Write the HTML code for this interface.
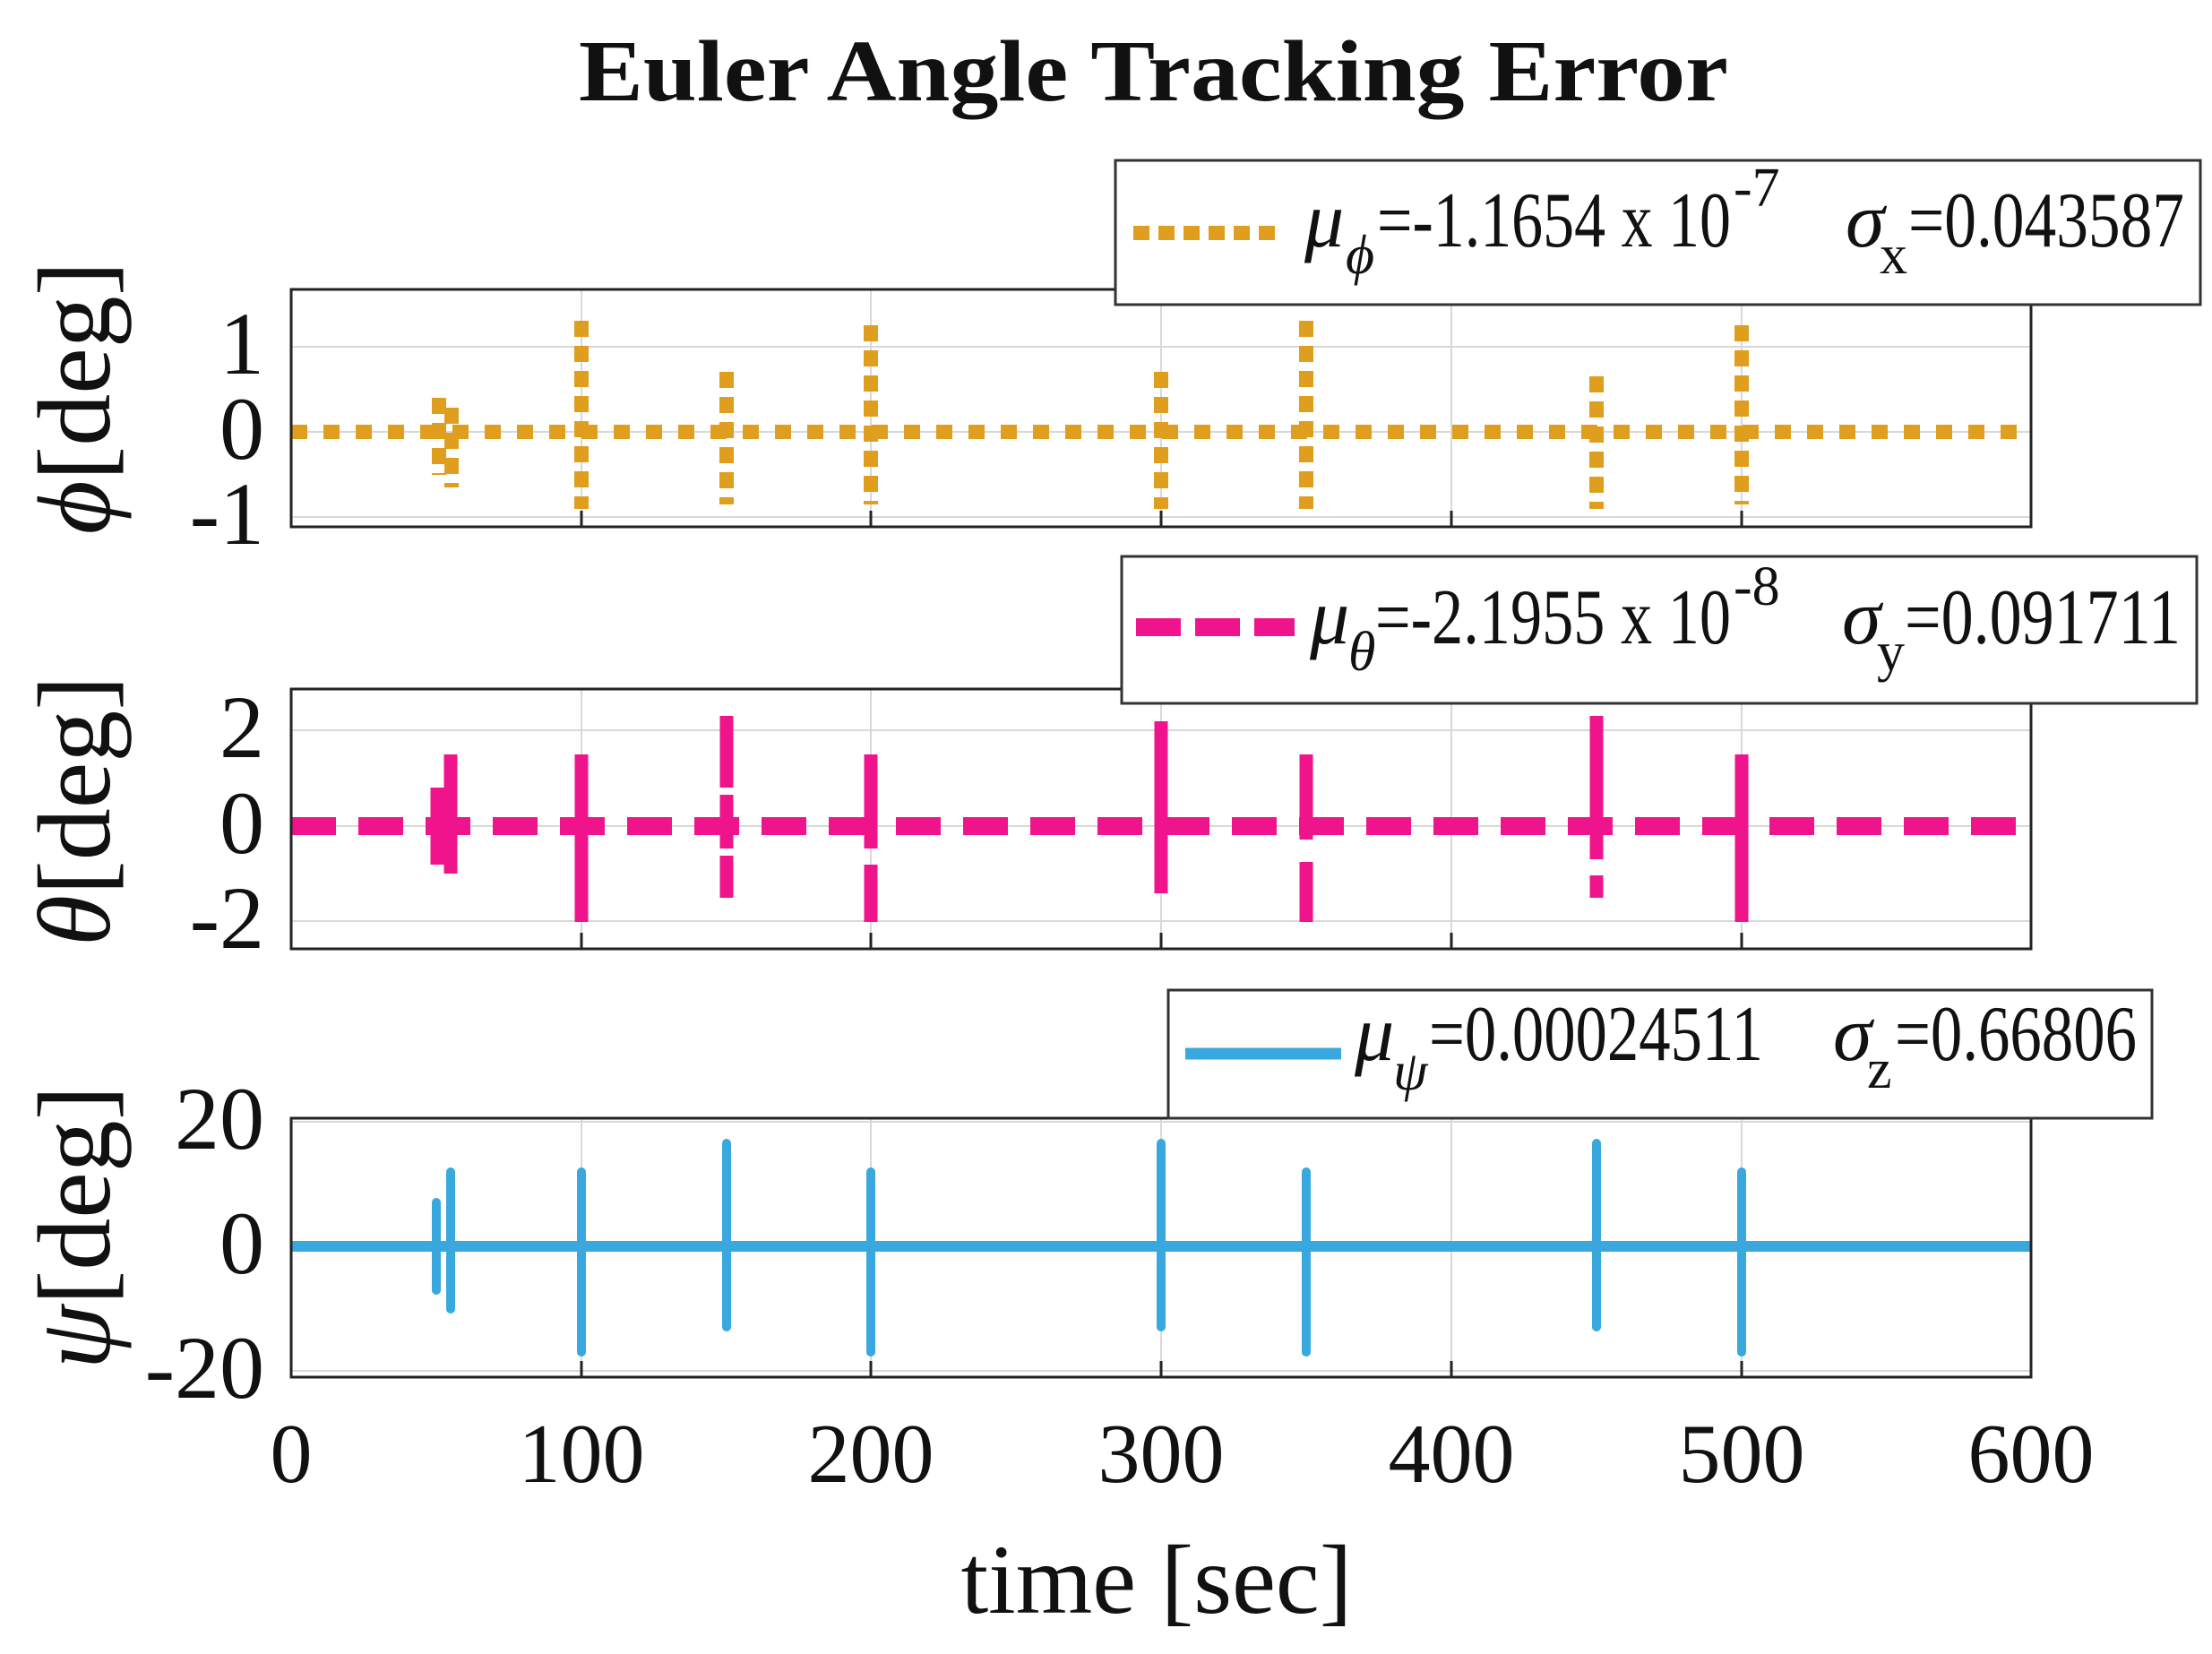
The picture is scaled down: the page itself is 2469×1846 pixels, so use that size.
<!DOCTYPE html>
<html><head><meta charset="utf-8"><style>
html,body{margin:0;padding:0;background:#fff}
svg{display:block}
text{font-family:"Liberation Serif",serif;fill:#111}
</style></head><body>
<svg width="2469" height="1846" viewBox="0 0 2469 1846" xmlns="http://www.w3.org/2000/svg">
<text x="646" y="112" font-size="98" font-weight="bold" textLength="1283" lengthAdjust="spacingAndGlyphs">Euler Angle Tracking Error</text>

<!-- grids -->
<g stroke="#d8d8d8" stroke-width="2">
<line x1="649" y1="323" x2="649" y2="588"/><line x1="972" y1="323" x2="972" y2="588"/><line x1="1296" y1="323" x2="1296" y2="588"/><line x1="1620" y1="323" x2="1620" y2="588"/><line x1="1944" y1="323" x2="1944" y2="588"/>
<line x1="325" y1="387" x2="2267" y2="387"/><line x1="325" y1="482" x2="2267" y2="482"/><line x1="325" y1="577" x2="2267" y2="577"/>
<line x1="649" y1="769" x2="649" y2="1059"/><line x1="972" y1="769" x2="972" y2="1059"/><line x1="1296" y1="769" x2="1296" y2="1059"/><line x1="1620" y1="769" x2="1620" y2="1059"/><line x1="1944" y1="769" x2="1944" y2="1059"/>
<line x1="325" y1="815" x2="2267" y2="815"/><line x1="325" y1="922" x2="2267" y2="922"/><line x1="325" y1="1028" x2="2267" y2="1028"/>
<line x1="649" y1="1248" x2="649" y2="1537"/><line x1="972" y1="1248" x2="972" y2="1537"/><line x1="1296" y1="1248" x2="1296" y2="1537"/><line x1="1620" y1="1248" x2="1620" y2="1537"/><line x1="1944" y1="1248" x2="1944" y2="1537"/>
<line x1="325" y1="1252" x2="2267" y2="1252"/><line x1="325" y1="1391" x2="2267" y2="1391"/><line x1="325" y1="1530" x2="2267" y2="1530"/>
</g>

<!-- phi -->
<g stroke="#E09E1E" stroke-width="16" fill="none">
<line x1="325" y1="482" x2="2267" y2="482" stroke-dasharray="18 18"/>
<g stroke-dasharray="18 10">
<line x1="490" y1="444" x2="490" y2="530"/><line x1="504" y1="455" x2="504" y2="544"/>
<line x1="649" y1="358" x2="649" y2="568"/><line x1="811" y1="415" x2="811" y2="563"/>
<line x1="972" y1="363" x2="972" y2="563"/><line x1="1296" y1="415" x2="1296" y2="568"/>
<line x1="1458" y1="358" x2="1458" y2="568"/><line x1="1782" y1="420" x2="1782" y2="568"/>
<line x1="1944" y1="363" x2="1944" y2="563"/>
</g></g>

<!-- theta -->
<g stroke="#F0148C" fill="none">
<line x1="325" y1="922" x2="2267" y2="922" stroke-width="20" stroke-dasharray="50 25"/>
<g stroke-width="15">
<line x1="488" y1="879" x2="488" y2="965"/><line x1="503" y1="842" x2="503" y2="975"/>
<line x1="649" y1="842" x2="649" y2="1029"/><line x1="811" y1="799" x2="811" y2="1002" stroke-dasharray="80 8 60 8 200"/>
<line x1="972" y1="842" x2="972" y2="1029" stroke-dasharray="105 18 200"/><line x1="1296" y1="805" x2="1296" y2="997"/>
<line x1="1458" y1="842" x2="1458" y2="1029" stroke-dasharray="95 25 200"/><line x1="1782" y1="799" x2="1782" y2="1002" stroke-dasharray="160 18 200"/>
<line x1="1944" y1="842" x2="1944" y2="1029"/>
</g></g>

<!-- psi -->
<g stroke="#38A8DE" fill="none" stroke-linecap="round">
<line x1="325" y1="1391" x2="2267" y2="1391" stroke-width="12" stroke-linecap="butt"/>
<g stroke-width="10">
<line x1="487" y1="1342" x2="487" y2="1440"/><line x1="503" y1="1308" x2="503" y2="1461"/>
<line x1="649" y1="1308" x2="649" y2="1509"/><line x1="811" y1="1276" x2="811" y2="1481"/>
<line x1="972" y1="1308" x2="972" y2="1509"/><line x1="1296" y1="1276" x2="1296" y2="1481"/>
<line x1="1458" y1="1308" x2="1458" y2="1509"/><line x1="1782" y1="1276" x2="1782" y2="1481"/>
<line x1="1944" y1="1308" x2="1944" y2="1509"/>
</g></g>

<!-- axes boxes -->
<g stroke="#222" stroke-width="3" fill="none">
<rect x="325" y="323" width="1942" height="265"/>
<rect x="325" y="769" width="1942" height="290"/>
<rect x="325" y="1248" width="1942" height="289"/>
</g>
<g stroke="#222" stroke-width="3">
<line x1="649" y1="588" x2="649" y2="570"/><line x1="972" y1="588" x2="972" y2="570"/><line x1="1296" y1="588" x2="1296" y2="570"/><line x1="1620" y1="588" x2="1620" y2="570"/><line x1="1944" y1="588" x2="1944" y2="570"/>
<line x1="649" y1="1059" x2="649" y2="1041"/><line x1="972" y1="1059" x2="972" y2="1041"/><line x1="1296" y1="1059" x2="1296" y2="1041"/><line x1="1620" y1="1059" x2="1620" y2="1041"/><line x1="1944" y1="1059" x2="1944" y2="1041"/>
<line x1="649" y1="1537" x2="649" y2="1519"/><line x1="972" y1="1537" x2="972" y2="1519"/><line x1="1296" y1="1537" x2="1296" y2="1519"/><line x1="1620" y1="1537" x2="1620" y2="1519"/><line x1="1944" y1="1537" x2="1944" y2="1519"/>
</g>

<!-- y tick labels -->
<g font-size="100" text-anchor="end">
<text x="295" y="417">1</text><text x="295" y="512">0</text><text x="295" y="607">-1</text>
<text x="295" y="845">2</text><text x="295" y="952">0</text><text x="295" y="1058">-2</text>
<text x="295" y="1282">20</text><text x="295" y="1421">0</text><text x="295" y="1560">-20</text>
</g>
<!-- x tick labels -->
<g font-size="94" text-anchor="middle">
<text x="325" y="1654">0</text><text x="649" y="1654">100</text><text x="972" y="1654">200</text><text x="1296" y="1654">300</text><text x="1620" y="1654">400</text><text x="1944" y="1654">500</text><text x="2267" y="1654">600</text>
</g>
<text x="1291" y="1800" font-size="110" text-anchor="middle">time [sec]</text>

<!-- y labels -->
<g font-size="116" text-anchor="middle">
<text transform="translate(122,444) rotate(-90)"><tspan font-style="italic">ϕ</tspan>[deg]</text>
<text transform="translate(122,905) rotate(-90)"><tspan font-style="italic">θ</tspan>[deg]</text>
<text transform="translate(122,1370) rotate(-90)"><tspan font-style="italic">ψ</tspan>[deg]</text>
</g>

<!-- legend 1 -->
<rect x="1245" y="179" width="1211" height="161" fill="#fff" stroke="#333" stroke-width="3"/>
<line x1="1265" y1="260" x2="1427" y2="260" stroke="#E09E1E" stroke-width="16" stroke-dasharray="18 10"/>
<g font-size="88">
<text x="1456" y="275" font-style="italic">μ</text>
<text x="1502" y="305" font-size="62" font-style="italic">ϕ</text>
<text x="1537" y="275" textLength="395" lengthAdjust="spacingAndGlyphs">=-1.1654 x 10</text>
<text x="1935" y="230" font-size="62">-7</text>
<text x="2060" y="275" font-style="italic">σ</text>
<text x="2098" y="305" font-size="62">x</text>
<text x="2130" y="275" textLength="308" lengthAdjust="spacingAndGlyphs">=0.043587</text>
</g>

<!-- legend 2 -->
<rect x="1252" y="621" width="1200" height="164" fill="#fff" stroke="#333" stroke-width="3"/>
<line x1="1268" y1="700" x2="1445" y2="700" stroke="#F0148C" stroke-width="20" stroke-dasharray="50 16"/>
<g font-size="88">
<text x="1462" y="718" font-style="italic">μ</text>
<text x="1505" y="748" font-size="62" font-style="italic">θ</text>
<text x="1535" y="718" textLength="397" lengthAdjust="spacingAndGlyphs">=-2.1955 x 10</text>
<text x="1935" y="675" font-size="62">-8</text>
<text x="2056" y="718" font-style="italic">σ</text>
<text x="2095" y="748" font-size="62">y</text>
<text x="2126" y="718" textLength="308" lengthAdjust="spacingAndGlyphs">=0.091711</text>
</g>

<!-- legend 3 -->
<rect x="1304" y="1105" width="1098" height="143" fill="#fff" stroke="#333" stroke-width="3"/>
<line x1="1323" y1="1176" x2="1497" y2="1176" stroke="#38A8DE" stroke-width="13"/>
<g font-size="88">
<text x="1512" y="1183" font-style="italic">μ</text>
<text x="1555" y="1216" font-size="62" font-style="italic">ψ</text>
<text x="1595" y="1183" textLength="373" lengthAdjust="spacingAndGlyphs">=0.00024511</text>
<text x="2046" y="1183" font-style="italic">σ</text>
<text x="2084" y="1214" font-size="62">z</text>
<text x="2115" y="1183" textLength="270" lengthAdjust="spacingAndGlyphs">=0.66806</text>
</g>
</svg>
</body></html>
